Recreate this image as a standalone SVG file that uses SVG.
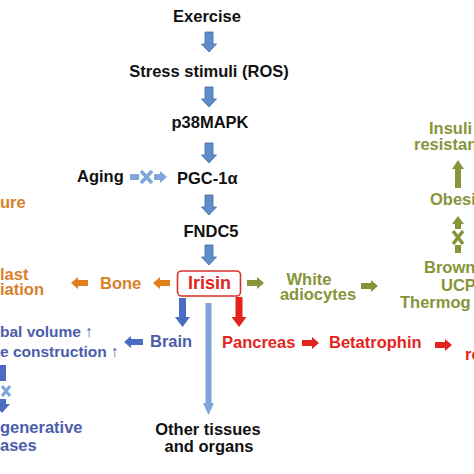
<svg xmlns="http://www.w3.org/2000/svg" width="474" height="474" viewBox="0 0 474 474">
<style>
text{font-family:"Liberation Sans",Arial,sans-serif;font-weight:bold;font-size:16.5px}
.k{fill:#111}
.o{fill:#d9802a}
.g{fill:#86953a}
.r{fill:#e3241c}
.b{fill:#4b5dab}
.c{text-anchor:middle}
.s{font-size:15.5px}
.ab{fill:#5f8ccb;stroke:#41699f;stroke-width:0.8}
.ao{fill:#e07d1c}
.ag{fill:#86953a}
.ar{fill:#e3241c}
.ad{fill:#4a6cc2}
.al{fill:#7ea6d9}
</style>
<defs>
<path id="dn" d="M-4,0H4V12H7.5L0,20L-7.5,12H-4Z"/>
<path id="lf" d="M0,0L7,-6V-3H17V3H7V6Z"/>
<path id="rt" d="M0,0L-7,-6V-3H-17V3H-7V6Z"/>
</defs>
<g id="connectors">
<use href="#dn" class="ab" x="209" y="32"/>
<use href="#dn" class="ab" x="209" y="87"/>
<use href="#dn" class="ab" x="209" y="143"/>
<use href="#dn" class="ab" x="209" y="195"/>
<use href="#dn" class="ab" x="209" y="245"/>
<g id="aging-arrow" fill="#7ea6d9">
<rect x="130" y="174" width="9" height="6"/>
<path d="M141,171L152,183M152,171L141,183" stroke="#7ea6d9" stroke-width="3.5"/>
<path d="M154,174H160V171L167,177L160,183V180H154Z"/>
</g>
<use href="#lf" class="ao" x="153" y="283"/>
<use href="#lf" class="ao" x="71" y="283"/>
<use href="#rt" class="ag" x="264" y="283"/>
<use href="#rt" class="ag" x="378" y="286"/>
<path class="ag" d="M458,160L464,169H461V188H455V169H452Z"/>
<g id="obesity-arrow">
<path class="ag" d="M458,216L464,224H461V229H455V224H452Z"/>
<path d="M453,231L463,244M463,231L453,244" stroke="#86953a" stroke-width="3.5"/>
<rect class="ag" x="455" y="245" width="6" height="8"/>
</g>
<path class="ad" d="M179,298H186V317H190L182.5,327L175,317H179Z"/>
<path class="al" d="M205.5,303H211.5V403H214L208.5,415L203,403H205.5Z"/>
<path class="ar" d="M235.5,297H242.5V317H246.5L239,327L231.5,317H235.5Z"/>
<path class="ad" d="M124,342L131,336V339H143V345H131V348Z"/>
<use href="#rt" class="ar" x="319" y="343"/>
<use href="#rt" class="ar" x="452" y="345"/>
<g id="neuro-arrow">
<path class="ad" d="M-2,365H6V381H-2Z"/>
<path d="M2,386L10,396M10,386L2,396" stroke="#7ea6d9" stroke-width="3"/>
<path class="ad" d="M-2,399H6V404H10L2,413L-6,404H-2Z"/>
</g>
</g>
<g id="exercise"><text class="k c" x="207" y="22">Exercise</text></g>
<g id="stress"><text class="k c" x="209" y="77">Stress stimuli (ROS)</text></g>
<g id="p38"><text class="k c" x="210" y="128">p38MAPK</text></g>
<g id="aging"><text class="k" x="77" y="182">Aging</text></g>
<g id="pgc"><text class="k" x="177" y="184">PGC-1α</text></g>
<g id="fndc5"><text class="k c" x="211" y="237">FNDC5</text></g>
<g id="irisin">
<rect x="177.5" y="271" width="63" height="25" rx="4" fill="#fff" stroke="#d9302a" stroke-width="1.6"/>
<text class="r c" x="209.5" y="288.5" style="font-size:18px">Irisin</text>
</g>
<g id="bone"><text class="o" x="100" y="289">Bone</text></g>
<g id="structure"><text class="o" x="0" y="208">ure</text></g>
<g id="osteoblast"><text class="o" x="0" y="280">last</text><text class="o" x="0" y="295">iation</text></g>
<g id="white"><text class="g c" x="309" y="285">White</text><text class="g c" x="318" y="300">adiocytes</text></g>
<g id="insulin"><text class="g" x="429" y="134">Insuli</text><text class="g" x="414" y="150">resistan</text></g>
<g id="obesity"><text class="g" x="430" y="205">Obesi</text></g>
<g id="brown"><text class="g" x="424" y="273">Brown</text><text class="g" x="441" y="291">UCP</text><text class="g" x="400" y="308">Thermog</text></g>
<g id="brain"><text class="b" x="150" y="347">Brain</text></g>
<g id="hippo"><text class="b" x="0" y="337" style="font-size:15.5px">bal volume ↑</text><text class="b" x="0" y="357" style="font-size:15.5px">e construction ↑</text></g>
<g id="neuro"><text class="b" x="0" y="433">generative</text><text class="b" x="0" y="451">ases</text></g>
<g id="other"><text class="k c" x="208" y="435">Other tissues</text><text class="k c" x="209" y="452">and organs</text></g>
<g id="pancreas"><text class="r" x="222" y="348">Pancreas</text></g>
<g id="betatrophin"><text class="r" x="329" y="348">Betatrophin</text></g>
<g id="re"><text class="r" x="465" y="360">re</text></g>
</svg>
